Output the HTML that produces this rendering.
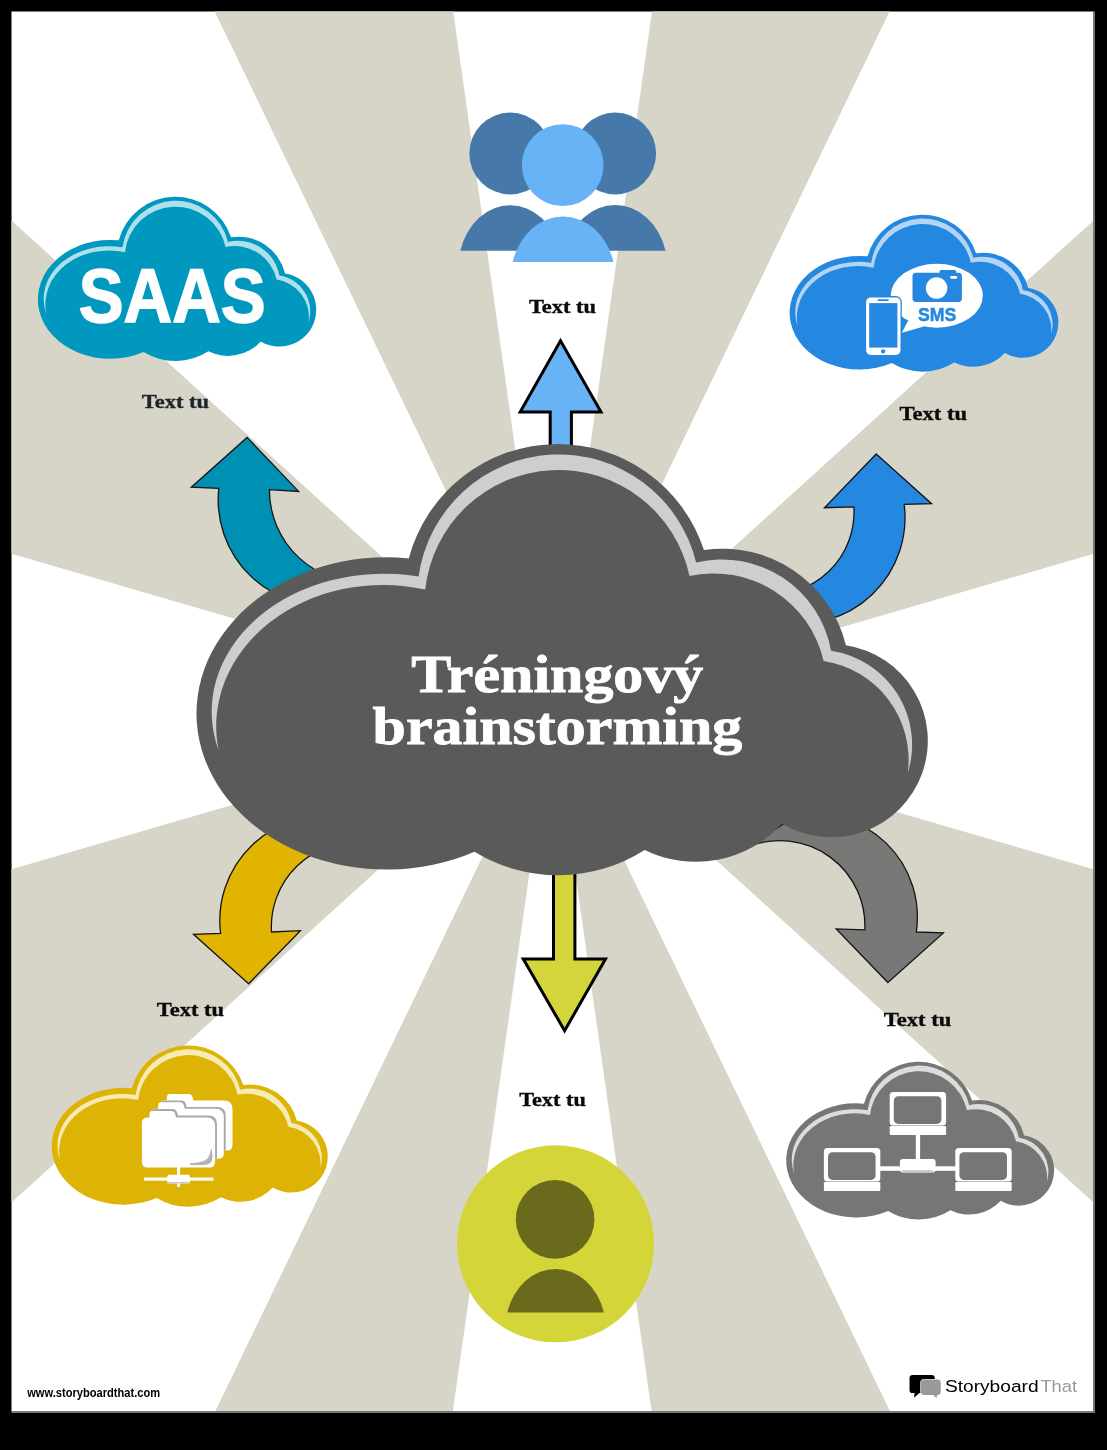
<!DOCTYPE html>
<html><head><meta charset="utf-8"><title>Brainstorming</title><style>html,body{margin:0;padding:0;background:#000;}svg text{font-family:"Liberation Serif",serif;}.sans{font-family:"Liberation Sans",sans-serif;}</style></head><body><svg width="1107" height="1450" viewBox="0 0 1107 1450" style="display:block"><defs><filter id="nf" x="0" y="0" width="1107" height="1450" filterUnits="userSpaceOnUse" color-interpolation-filters="sRGB"><feOffset dx="0" dy="0"/></filter></defs><clipPath id="fc2"><path d="M164.8 1100.6 L166.9 1100.6 L166.9 1097.1 Q166.9 1094.1 169.9 1094.1 L188.5 1094.1 Q191.5 1094.1 192.5 1097.1 L193.5 1100.6 L224.0 1100.6 Q232.5 1100.6 232.5 1109.1 L232.5 1145.0 Q232.5 1150.5 227.0 1150.5 L164.8 1150.5 Q159.3 1150.5 159.3 1145.0 L159.3 1106.1 Q159.3 1100.6 164.8 1100.6 Z"/></clipPath><clipPath id="fc1"><path d="M156.1 1108.8 L158.2 1108.8 L158.2 1105.3 Q158.2 1102.3 161.2 1102.3 L179.8 1102.3 Q182.8 1102.3 183.8 1105.3 L184.8 1108.8 L215.3 1108.8 Q223.8 1108.8 223.8 1117.3 L223.8 1153.2 Q223.8 1158.7 218.3 1158.7 L156.1 1158.7 Q150.6 1158.7 150.6 1153.2 L150.6 1114.3 Q150.6 1108.8 156.1 1108.8 Z"/></clipPath><g filter="url(#nf)"><rect x="0" y="0" width="1107" height="1450" fill="#000"/>
<rect x="11.5" y="11.5" width="1082.0" height="1400.0" fill="#fff"/>
<polygon points="552.4,711.5 214.7,11.5 453.2,11.5" fill="#d7d5c8"/>
<polygon points="552.4,711.5 652.0,11.5 889.6,11.5" fill="#d7d5c8"/>
<polygon points="552.4,711.5 1093.5,220.5 1093.5,553.8" fill="#d7d5c8"/>
<polygon points="552.4,711.5 1093.5,869.3 1093.5,1202.5" fill="#d7d5c8"/>
<polygon points="552.4,711.5 890.1,1411.5 651.6,1411.5" fill="#d7d5c8"/>
<polygon points="552.4,711.5 452.8,1411.5 215.2,1411.5" fill="#d7d5c8"/>
<polygon points="552.4,711.5 11.5,1202.5 11.5,869.2" fill="#d7d5c8"/>
<polygon points="552.4,711.5 11.5,553.7 11.5,220.5" fill="#d7d5c8"/>
<rect x="1093" y="11.5" width="2" height="1401.5" fill="#777"/>
<rect x="11.5" y="1411" width="1083.5" height="2" fill="#777"/>
<rect x="1095" y="0" width="12" height="1450" fill="#000"/>
<rect x="0" y="1413" width="1107" height="37" fill="#000"/>
<path d="M247.1 437.5 L298.6 491.4 L269.4 489.6 A92.6 92.6 0 0 0 370.3 582.1 L342.5 604.1 A105.9 105.9 0 0 1 218.8 488.3 L191.3 487.2 Z" fill="#0090b4" stroke="#141414" stroke-width="1.3" stroke-linejoin="miter"/>
<path d="M876.2 454.0 L931.6 503.7 L904.2 504.4 A106.1 106.1 0 0 1 780.8 622.2 L763.7 594.4 A82.9 82.9 0 0 0 853.9 506.8 L824.5 507.7 Z" fill="#2588e0" stroke="#141414" stroke-width="1.3" stroke-linejoin="miter"/>
<path d="M248.6 983.8 L193.5 934.3 L220.6 933.4 A104.2 104.2 0 0 1 342.3 818.0 L363.8 842.4 A84.7 84.7 0 0 0 271.5 932.0 L300.4 930.7 Z" fill="#e0b400" stroke="#141414" stroke-width="1.3" stroke-linejoin="miter"/>
<path d="M887.9 982.5 L943.4 932.9 L916.3 932.0 A103.2 103.2 0 0 0 795.9 815.5 L750.5 845.8 A85.1 85.1 0 0 1 864.8 929.8 L836.2 928.9 Z" fill="#787876" stroke="#141414" stroke-width="1.3" stroke-linejoin="miter"/>
<path d="M560.5 340.8 L601 411.9 L571.4 411.9 L571.4 470 L550.2 470 L550.2 411.9 L520.2 411.9 Z" fill="#68b3f5" stroke="#000" stroke-width="3" stroke-linejoin="miter" stroke-miterlimit="10"/>
<path d="M564.6 1030.7 L523.3 959.1 L553.5 959.1 L553.5 850 L574.9 850 L574.9 959.1 L605.5 959.1 Z" fill="#d4d53a" stroke="#000" stroke-width="3" stroke-linejoin="miter" stroke-miterlimit="10"/>
<path d="M474.5 851.7 A189.9 156.1 0 1 1 408.8 558.4 A154.0 154.0 0 0 1 703.9 550.0 A127.2 127.2 0 0 1 845.9 645.2 A96.6 96.6 0 1 1 782.0 823.8 A116.6 116.6 0 0 1 644.6 849.9 A160.6 160.6 0 0 1 474.5 851.7 Z" fill="#5a5a5a"/>
<path d="M218.6 750.3 A171.8 137.9 0 0 1 418.6 576.6 A141.4 141.4 0 0 1 696.1 562.5 A110.9 110.9 0 0 1 831.1 650.8 A94.9 94.9 0 0 1 907.7 773.3 A99.8 99.8 0 0 0 823.6 661.1 A112.5 112.5 0 0 0 689.5 576.1 A134.0 134.0 0 0 0 425.2 589.6 A166.6 141.4 0 0 0 218.6 750.3 Z" fill="#cecece"/>
<g transform="translate(-36.90 27.72) scale(0.3806 0.3808)"><path d="M474.5 851.7 A189.9 156.1 0 1 1 408.8 558.4 A154.0 154.0 0 0 1 703.9 550.0 A127.2 127.2 0 0 1 845.9 645.2 A96.6 96.6 0 1 1 782.0 823.8 A116.6 116.6 0 0 1 644.6 849.9 A160.6 160.6 0 0 1 474.5 851.7 Z" fill="#0098be"/><path d="M218.6 750.3 A171.8 137.9 0 0 1 418.6 576.6 A141.4 141.4 0 0 1 696.1 562.5 A110.9 110.9 0 0 1 831.1 650.8 A94.9 94.9 0 0 1 907.7 773.3 A99.8 99.8 0 0 0 823.6 661.1 A112.5 112.5 0 0 0 689.5 576.1 A134.0 134.0 0 0 0 425.2 589.6 A166.6 141.4 0 0 0 218.6 750.3 Z" fill="#ade0eb"/></g>
<g transform="translate(717.38 52.85) scale(0.3675 0.3643)"><path d="M474.5 851.7 A189.9 156.1 0 1 1 408.8 558.4 A154.0 154.0 0 0 1 703.9 550.0 A127.2 127.2 0 0 1 845.9 645.2 A96.6 96.6 0 1 1 782.0 823.8 A116.6 116.6 0 0 1 644.6 849.9 A160.6 160.6 0 0 1 474.5 851.7 Z" fill="#2588e0"/><path d="M218.6 750.3 A171.8 137.9 0 0 1 418.6 576.6 A141.4 141.4 0 0 1 696.1 562.5 A110.9 110.9 0 0 1 831.1 650.8 A94.9 94.9 0 0 1 907.7 773.3 A99.8 99.8 0 0 0 823.6 661.1 A112.5 112.5 0 0 0 689.5 576.1 A134.0 134.0 0 0 0 425.2 589.6 A166.6 141.4 0 0 0 218.6 750.3 Z" fill="#b3d4f5"/></g>
<g transform="translate(-22.48 879.21) scale(0.3775 0.3743)"><path d="M474.5 851.7 A189.9 156.1 0 1 1 408.8 558.4 A154.0 154.0 0 0 1 703.9 550.0 A127.2 127.2 0 0 1 845.9 645.2 A96.6 96.6 0 1 1 782.0 823.8 A116.6 116.6 0 0 1 644.6 849.9 A160.6 160.6 0 0 1 474.5 851.7 Z" fill="#ddb305"/><path d="M218.6 750.3 A171.8 137.9 0 0 1 418.6 576.6 A141.4 141.4 0 0 1 696.1 562.5 A110.9 110.9 0 0 1 831.1 650.8 A94.9 94.9 0 0 1 907.7 773.3 A99.8 99.8 0 0 0 823.6 661.1 A112.5 112.5 0 0 0 689.5 576.1 A134.0 134.0 0 0 0 425.2 589.6 A166.6 141.4 0 0 0 218.6 750.3 Z" fill="#f6ebb4"/></g>
<g transform="translate(714.20 899.43) scale(0.3664 0.3657)"><path d="M474.5 851.7 A189.9 156.1 0 1 1 408.8 558.4 A154.0 154.0 0 0 1 703.9 550.0 A127.2 127.2 0 0 1 845.9 645.2 A96.6 96.6 0 1 1 782.0 823.8 A116.6 116.6 0 0 1 644.6 849.9 A160.6 160.6 0 0 1 474.5 851.7 Z" fill="#767674"/><path d="M218.6 750.3 A171.8 137.9 0 0 1 418.6 576.6 A141.4 141.4 0 0 1 696.1 562.5 A110.9 110.9 0 0 1 831.1 650.8 A94.9 94.9 0 0 1 907.7 773.3 A99.8 99.8 0 0 0 823.6 661.1 A112.5 112.5 0 0 0 689.5 576.1 A134.0 134.0 0 0 0 425.2 589.6 A166.6 141.4 0 0 0 218.6 750.3 Z" fill="#dcdcdc"/></g>
<circle cx="510.2" cy="153.5" r="40.9" fill="#4679a9"/>
<circle cx="615.2" cy="153.5" r="40.9" fill="#4679a9"/>
<path d="M460.3 250.8 A51.9 62.9 0 0 1 560.1 250.8 Z" fill="#4679a9"/>
<path d="M564.8 250.8 A52.4 62.9 0 0 1 665.6 250.8 Z" fill="#4679a9"/>
<circle cx="562.7" cy="165.1" r="40.9" fill="#68b3f5"/>
<path d="M512.7 262.1 A52.4 62.9 0 0 1 613.5 262.1 Z" fill="#68b3f5"/>
<circle cx="555.6" cy="1243.8" r="98.5" fill="#d3d538"/>
<circle cx="555.1" cy="1219.4" r="39.3" fill="#6a6a1c"/>
<path d="M507.3 1312.5 A50.2 59.8 0 0 1 603.9 1312.5 Z" fill="#6a6a1c"/>
<text class="sans" x="78.7" y="321.7" font-size="76.8" font-weight="bold" fill="#fff" stroke="#fff" stroke-width="1.6" textLength="187" lengthAdjust="spacingAndGlyphs">SAAS</text>
<ellipse cx="936.8" cy="295.7" rx="46" ry="32" fill="#fff"/>
<path d="M908.1 320.8 L901.8 332.8 L923.9 326.5 L915 316 Z" fill="#fff"/>
<rect x="912.5" y="272.7" width="49.4" height="29.3" rx="3.4" fill="#2588e0"/>
<rect x="939.5" y="269.9" width="16.7" height="6" rx="1.6" fill="#2588e0"/>
<circle cx="936.6" cy="288.1" r="10.75" fill="#fff"/>
<rect x="950.1" y="275.9" width="7.1" height="2.9" rx="1.4" fill="#fff"/>
<text class="sans" x="917.9" y="320.5" font-size="19" font-weight="bold" fill="#2588e0" stroke="#2588e0" stroke-width="0.5" textLength="38.3" lengthAdjust="spacingAndGlyphs">SMS</text>
<rect x="866.1" y="297.4" width="34.4" height="57.5" rx="4.6" fill="#fff" stroke="#2588e0" stroke-width="2.6" paint-order="stroke"/>
<rect x="869.2" y="303.1" width="28.2" height="44.5" fill="#2588e0"/>
<rect x="877.5" y="299.3" width="11.4" height="1.6" rx="0.8" fill="#2588e0"/>
<circle cx="883.1" cy="351.4" r="2.1" fill="#2588e0"/>
<path d="M164.8 1100.6 L166.9 1100.6 L166.9 1097.1 Q166.9 1094.1 169.9 1094.1 L188.5 1094.1 Q191.5 1094.1 192.5 1097.1 L193.5 1100.6 L224.0 1100.6 Q232.5 1100.6 232.5 1109.1 L232.5 1145.0 Q232.5 1150.5 227.0 1150.5 L164.8 1150.5 Q159.3 1150.5 159.3 1145.0 L159.3 1106.1 Q159.3 1100.6 164.8 1100.6 Z" fill="#fff"/>
<path d="M158.0 1106.9 L160.1 1106.9 L160.1 1103.4 Q160.1 1100.4 163.1 1100.4 L181.7 1100.4 Q184.7 1100.4 185.7 1103.4 L186.7 1106.9 L217.2 1106.9 Q225.7 1106.9 225.7 1115.4 L225.7 1151.3 Q225.7 1156.8 220.2 1156.8 L158.0 1156.8 Q152.5 1156.8 152.5 1151.3 L152.5 1112.4 Q152.5 1106.9 158.0 1106.9 Z" fill="#aaa" clip-path="url(#fc2)"/>
<path d="M156.1 1108.8 L158.2 1108.8 L158.2 1105.3 Q158.2 1102.3 161.2 1102.3 L179.8 1102.3 Q182.8 1102.3 183.8 1105.3 L184.8 1108.8 L215.3 1108.8 Q223.8 1108.8 223.8 1117.3 L223.8 1153.2 Q223.8 1158.7 218.3 1158.7 L156.1 1158.7 Q150.6 1158.7 150.6 1153.2 L150.6 1114.3 Q150.6 1108.8 156.1 1108.8 Z" fill="#fff"/>
<path d="M149.3 1115.6 L151.4 1115.6 L151.4 1112.1 Q151.4 1109.1 154.4 1109.1 L173.0 1109.1 Q176.0 1109.1 177.0 1112.1 L178.0 1115.6 L208.5 1115.6 Q217.0 1115.6 217.0 1124.1 L217.0 1160.0 Q217.0 1165.5 211.5 1165.5 L149.3 1165.5 Q143.8 1165.5 143.8 1160.0 L143.8 1121.1 Q143.8 1115.6 149.3 1115.6 Z" fill="#aaa" clip-path="url(#fc1)"/>
<path d="M147.4 1117.5 L149.5 1117.5 L149.5 1114.0 Q149.5 1111.0 152.5 1111.0 L171.1 1111.0 Q174.1 1111.0 175.1 1114.0 L176.1 1117.5 L206.6 1117.5 Q215.1 1117.5 215.1 1126.0 L215.1 1161.9 Q215.1 1167.4 209.6 1167.4 L147.4 1167.4 Q141.9 1167.4 141.9 1161.9 L141.9 1123.0 Q141.9 1117.5 147.4 1117.5 Z" fill="#fff"/>
<path d="M189.6 1163.2 Q204 1162.5 207.5 1158.5 Q210.5 1154 211.3 1147.9 Q213.5 1157 211.5 1161.5 Q209 1165 204 1165 L190.5 1165 Z" fill="#b4b4b4"/>
<rect x="177.1" y="1167" width="3" height="8.5" fill="#fff"/>
<rect x="144.1" y="1177.5" width="69.4" height="3.2" fill="#fff"/>
<rect x="167.4" y="1174.8" width="22.4" height="8.8" rx="1.5" fill="#fff"/>
<rect x="168.4" y="1181.9" width="20.4" height="1.7" fill="#c9c9c9"/>
<rect x="177.2" y="1183.4" width="2.9" height="3.5" fill="#fff"/>
<rect x="915.8" y="1134" width="4.3" height="26" fill="#fff"/>
<rect x="879" y="1166.3" width="78" height="4.5" fill="#fff"/>
<rect x="889.7" y="1092.0" width="56.4" height="33.6" rx="3.5" fill="#fff"/>
<rect x="893.8" y="1096.3" width="47.6" height="27.6" rx="4.5" fill="#767674"/>
<rect x="889.7" y="1126.1" width="56.4" height="8.8" rx="1.2" fill="#fff"/>
<rect x="823.9" y="1148.0" width="56.4" height="33.6" rx="3.5" fill="#fff"/>
<rect x="828.0" y="1152.3" width="47.6" height="27.6" rx="4.5" fill="#767674"/>
<rect x="823.9" y="1182.1" width="56.4" height="8.8" rx="1.2" fill="#fff"/>
<rect x="955.3" y="1148.0" width="56.4" height="33.6" rx="3.5" fill="#fff"/>
<rect x="959.4" y="1152.3" width="47.6" height="27.6" rx="4.5" fill="#767674"/>
<rect x="955.3" y="1182.1" width="56.4" height="8.8" rx="1.2" fill="#fff"/>
<rect x="899.9" y="1159" width="35.7" height="13.6" rx="3" fill="#fff"/>
<rect x="902" y="1170.3" width="31.5" height="2.6" rx="1" fill="#c4c4c4"/>
<text x="528.9" y="313" font-size="19.8" font-weight="bold" fill="#0a0a0a" stroke="#0a0a0a" stroke-width="0.35" textLength="67.2" lengthAdjust="spacingAndGlyphs">Text tu</text>
<text x="141.7" y="407.6" font-size="19.8" font-weight="bold" fill="#20252c" stroke="#20252c" stroke-width="0.35" textLength="67.4" lengthAdjust="spacingAndGlyphs">Text tu</text>
<text x="899.5" y="419.5" font-size="19.8" font-weight="bold" fill="#0a0a0a" stroke="#0a0a0a" stroke-width="0.35" textLength="67.5" lengthAdjust="spacingAndGlyphs">Text tu</text>
<text x="156.8" y="1015.7" font-size="19.8" font-weight="bold" fill="#0a0a0a" stroke="#0a0a0a" stroke-width="0.35" textLength="67.2" lengthAdjust="spacingAndGlyphs">Text tu</text>
<text x="883.8" y="1025.7" font-size="19.8" font-weight="bold" fill="#0a0a0a" stroke="#0a0a0a" stroke-width="0.35" textLength="67.5" lengthAdjust="spacingAndGlyphs">Text tu</text>
<text x="519.2" y="1106.3" font-size="19.8" font-weight="bold" fill="#0a0a0a" stroke="#0a0a0a" stroke-width="0.35" textLength="66.6" lengthAdjust="spacingAndGlyphs">Text tu</text>
<text x="411.3" y="692.2" font-size="52" font-weight="bold" fill="#fff" stroke="#fff" stroke-width="0.8" textLength="292" lengthAdjust="spacingAndGlyphs">Tréningový</text>
<text x="372.6" y="743.8" font-size="52" font-weight="bold" fill="#fff" stroke="#fff" stroke-width="0.8" textLength="369.7" lengthAdjust="spacingAndGlyphs">brainstorming</text>
<text class="sans" x="27.2" y="1396.7" font-size="12" font-weight="bold" fill="#000" textLength="133" lengthAdjust="spacingAndGlyphs">www.storyboardthat.com</text>
<path d="M912.7 1375 H931.6 Q934.8 1375 934.8 1378.2 V1389.9 Q934.8 1393.1 931.6 1393.1 H919.4 L914 1397.8 L914.6 1393.1 H912.7 Q909.5 1393.1 909.5 1389.9 V1378.2 Q909.5 1375 912.7 1375 Z" fill="#000"/>
<path d="M924.2 1379.6 H937.5 Q940.7 1379.6 940.7 1382.8 V1391.7 Q940.7 1394.9 937.5 1394.9 H937.2 L936.6 1397.9 L933.2 1394.9 H924.2 Q921 1394.9 921 1391.7 V1382.8 Q921 1379.6 924.2 1379.6 Z" fill="#999" stroke="#fff" stroke-width="1.4" paint-order="stroke"/>
<text class="sans" x="944.9" y="1391.7" font-size="17.2" fill="#000" textLength="93.7" lengthAdjust="spacingAndGlyphs">Storyboard</text>
<text class="sans" x="1040.4" y="1391.7" font-size="17.2" fill="#999" textLength="36.7" lengthAdjust="spacingAndGlyphs">That</text></g></svg></body></html>
